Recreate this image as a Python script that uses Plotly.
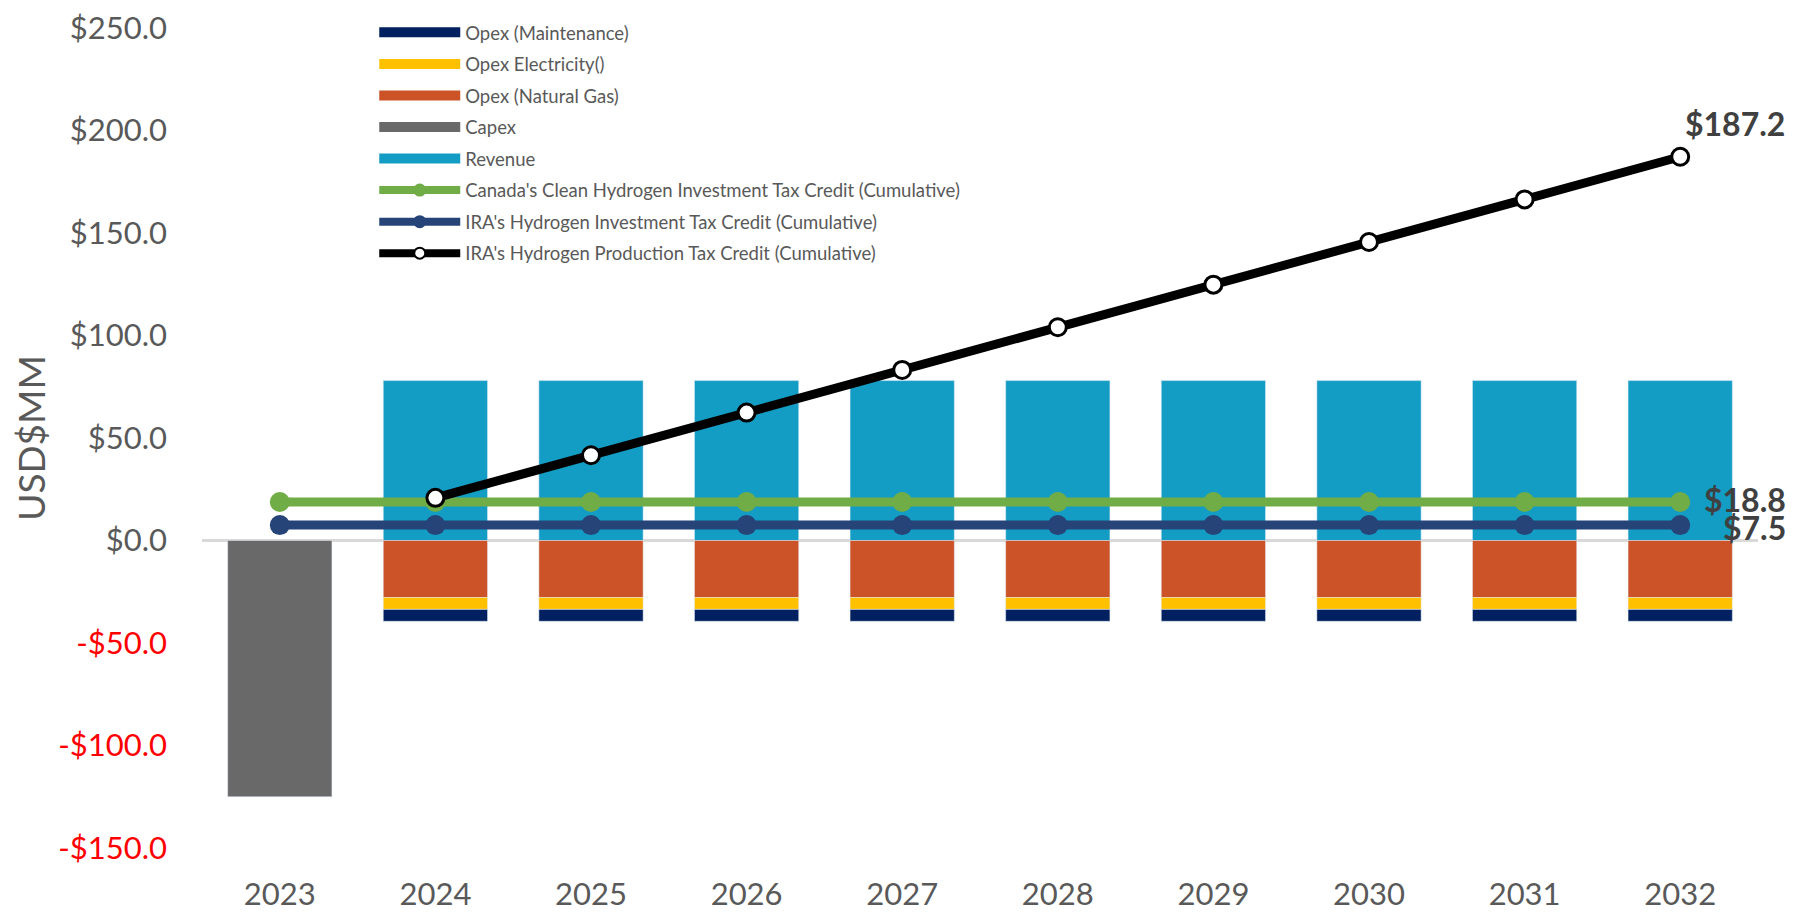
import plotly.graph_objects as go

years = ["2023", "2024", "2025", "2026", "2027", "2028", "2029", "2030", "2031", "2032"]

revenue = [None, 78.0, 78.0, 78.0, 78.0, 78.0, 78.0, 78.0, 78.0, 78.0]
capex = [-125.0, None, None, None, None, None, None, None, None, None]
opex_gas = [None, -27.8, -27.8, -27.8, -27.8, -27.8, -27.8, -27.8, -27.8, -27.8]
opex_elec = [None, -5.8, -5.8, -5.8, -5.8, -5.8, -5.8, -5.8, -5.8, -5.8]
opex_maint = [None, -5.8, -5.8, -5.8, -5.8, -5.8, -5.8, -5.8, -5.8, -5.8]

canada_itc = [18.8, 18.8, 18.8, 18.8, 18.8, 18.8, 18.8, 18.8, 18.8, 18.8]
ira_itc = [7.5, 7.5, 7.5, 7.5, 7.5, 7.5, 7.5, 7.5, 7.5, 7.5]
ira_ptc = [None, 20.8, 41.6, 62.4, 83.2, 104.0, 124.8, 145.6, 166.4, 187.2]

y_ticks = [-150, -100, -50, 0, 50, 100, 150, 200, 250]

FONT = "Lato"
GREY = "#595959"
LABEL = "#404040"

C_MAINT = "#002060"
C_ELEC = "#FFC000"
C_GAS = "#CB5327"
C_CAPEX = "#696969"
C_REV = "#139CC4"
C_CAN = "#70AD47"
C_IRA_ITC = "#264478"
C_PTC = "#000000"


def money(v):
    if v < 0:
        return f"<span style='color:#FF0000'>-${-v:.1f}</span>"
    return f"${v:.1f}"


fig = go.Figure()

# bars (negatives stack away from zero in trace order)
fig.add_trace(go.Bar(x=years, y=revenue, marker_color=C_REV, showlegend=False))
fig.add_trace(go.Bar(x=years, y=capex, marker_color=C_CAPEX, showlegend=False))
fig.add_trace(go.Bar(x=years, y=opex_gas, marker_color=C_GAS, showlegend=False))
fig.add_trace(go.Bar(x=years, y=opex_elec, marker_color=C_ELEC, showlegend=False))
fig.add_trace(go.Bar(x=years, y=opex_maint, marker_color=C_MAINT, showlegend=False))

# lines
fig.add_trace(go.Scatter(
    x=years, y=canada_itc, mode="lines+markers", showlegend=False,
    line=dict(color=C_CAN, width=9), marker=dict(size=20, color=C_CAN),
))
fig.add_trace(go.Scatter(
    x=years, y=ira_itc, mode="lines+markers", showlegend=False,
    line=dict(color=C_IRA_ITC, width=9), marker=dict(size=20, color=C_IRA_ITC),
))
fig.add_trace(go.Scatter(
    x=years, y=ira_ptc, mode="lines+markers", showlegend=False,
    line=dict(color=C_PTC, width=9),
    marker=dict(size=17, color="white", line=dict(color=C_PTC, width=3)),
))

# legend entries (wide swatches like the original)
legend_items = [
    ("Opex (Maintenance)", C_MAINT, None),
    ("Opex Electricity()", C_ELEC, None),
    ("Opex (Natural Gas)", C_GAS, None),
    ("Capex", C_CAPEX, None),
    ("Revenue", C_REV, None),
    ("Canada's Clean Hydrogen Investment Tax Credit (Cumulative)", C_CAN, C_CAN),
    ("IRA's Hydrogen Investment Tax Credit (Cumulative)", C_IRA_ITC, C_IRA_ITC),
    ("IRA's Hydrogen Production Tax Credit (Cumulative)", C_PTC, "white"),
]
for i, (name, col, mcol) in enumerate(legend_items):
    if mcol is None:
        fig.add_trace(go.Scatter(
            x=[None], y=[None], mode="lines", name=name, legendgroup=f"g{i}",
            line=dict(color=col, width=10),
        ))
    else:
        fig.add_trace(go.Scatter(
            x=[None], y=[None], mode="lines+markers", name=name, legendgroup=f"g{i}",
            line=dict(color=col, width=8),
            marker=dict(size=11, color=mcol, line=dict(color=col, width=2)),
        ))

# end-of-series value labels (category axis -> use index of last year)
last = len(years) - 1
label_font = dict(family=FONT, size=32, color=LABEL, weight="bold")
fig.add_annotation(x=last, y=ira_ptc[-1], text=f"${ira_ptc[-1]:.1f}",
                   showarrow=False, xanchor="left", yanchor="middle",
                   xshift=3, yshift=33, font=label_font)
fig.add_annotation(x=last, y=canada_itc[-1], text=f"${canada_itc[-1]:.1f}",
                   showarrow=False, xanchor="right", yanchor="middle",
                   xshift=108, yshift=2, font=label_font)
fig.add_annotation(x=last, y=ira_itc[-1], text=f"${ira_itc[-1]:.1f}",
                   showarrow=False, xanchor="right", yanchor="middle",
                   xshift=108, yshift=-2, font=label_font)

# page body adds an 8px offset, margins compensate for it
fig.update_layout(
    width=1812, height=914,
    margin=dict(l=194, r=62, t=20, b=74, autoexpand=False),
    paper_bgcolor="white", plot_bgcolor="white",
    barmode="relative", bargap=0.33,
    font=dict(family=FONT, color=GREY),
    legend=dict(
        x=0.1107, y=1.0173, xanchor="left", yanchor="top",
        font=dict(family=FONT, size=18.5, color=GREY),
        bgcolor="rgba(0,0,0,0)", itemwidth=81,
        traceorder="grouped", tracegroupgap=4.5,
    ),
    xaxis=dict(
        type="category", range=[-0.5, len(years) - 0.5],
        showgrid=False, showline=False, ticks="",
        tickfont=dict(family=FONT, size=31, color=GREY),
        ticklabelstandoff=25, automargin=False,
    ),
    yaxis=dict(
        range=[y_ticks[0] - 0.001, y_ticks[-1] + 0.001],
        showgrid=False, showline=False, ticks="",
        tickvals=y_ticks, ticktext=[money(v) for v in y_ticks],
        tickfont=dict(family=FONT, size=31, color=GREY),
        ticklabelstandoff=34, automargin=False, ticklabeloverflow="allow",
        zeroline=True, zerolinecolor="#D9D9D9", zerolinewidth=3,
        title=dict(text="USD$MM", font=dict(family=FONT, size=37, color=GREY), standoff=9),
    ),
)

fig.write_html("out.html")
